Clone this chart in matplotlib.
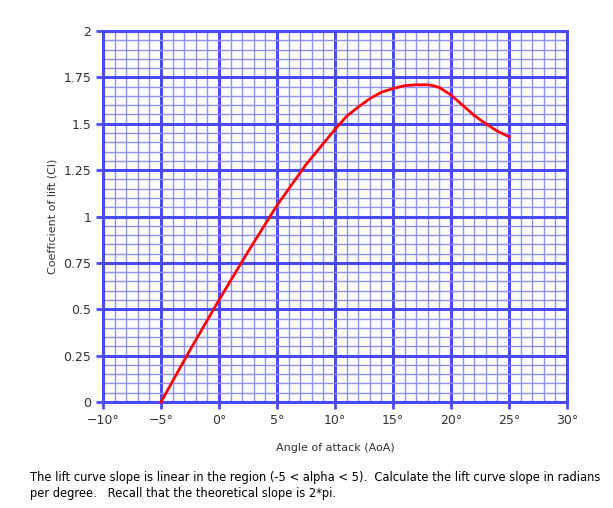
import matplotlib
matplotlib.use("Agg")
import matplotlib.pyplot as plt
from matplotlib.ticker import MultipleLocator, FuncFormatter

aoa = [-5, -2.5, 0, 2.5, 5, 7.5, 10, 11, 12, 13, 14, 15, 16, 17, 18, 18.5, 19, 20, 21, 22, 23, 24, 25]
cl = [0.0, 0.28, 0.55, 0.81, 1.06, 1.28, 1.47, 1.54, 1.59, 1.635, 1.67, 1.69, 1.705, 1.71, 1.71, 1.705, 1.695, 1.655, 1.60, 1.545, 1.50, 1.46, 1.43]

fig = plt.figure(figsize=(6.13, 5.08), dpi=100)
ax = fig.add_axes([103/613, 106/508, 464/613, 371/508])
blue = "#4a4aff"
ax.set_xlim(-10, 30)
ax.set_ylim(0, 2)
ax.xaxis.set_major_locator(MultipleLocator(5))
ax.xaxis.set_minor_locator(MultipleLocator(1))
ax.yaxis.set_major_locator(MultipleLocator(0.25))
ax.yaxis.set_minor_locator(MultipleLocator(0.05))
ax.xaxis.set_major_formatter(FuncFormatter(lambda v, p: f"{int(v)}°".replace("-", "−")))
ax.yaxis.set_major_formatter(FuncFormatter(lambda v, p: f"{v:g}"))
ax.grid(which="major", color=blue, lw=2.2)
ax.grid(which="minor", color="#8f8fff", lw=1.0)
ax.set_axisbelow(True)
for s in ax.spines.values():
    s.set_color(blue); s.set_linewidth(2.2)
ax.tick_params(which="major", color=blue, width=2, length=5, labelsize=9, labelcolor="#333333")
ax.tick_params(which="minor", length=0)
ax.plot(aoa, cl, color="red", lw=2, clip_on=False, zorder=5)
ax.set_xlabel("Angle of attack (AoA)", fontsize=8, color="#333333", labelpad=12)
ax.set_ylabel("Coefficient of lift (Cl)", fontsize=8, color="#333333")
fig.text(30/613, 1 - 486/508, "The lift curve slope is linear in the region (-5 < alpha < 5).  Calculate the lift curve slope in radians\nper degree.   Recall that the theoretical slope is 2*pi.", fontsize=8.3, va="center", linespacing=1.3)
fig.savefig("out.png", dpi=100)
